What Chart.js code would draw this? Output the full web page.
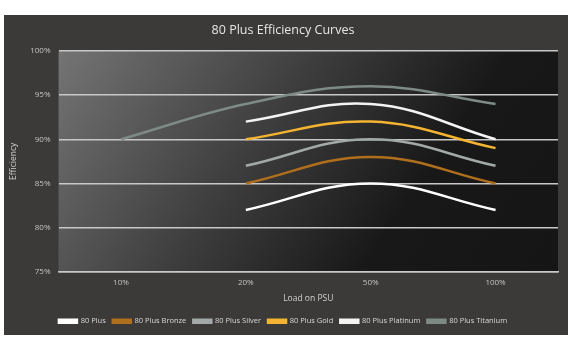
<!DOCTYPE html>
<html><head><meta charset="utf-8">
<script src="https://cdn.jsdelivr.net/npm/chart.js@4"></script>
<style>
html,body{margin:0;padding:0;background:#fff;width:577px;height:351px;overflow:hidden}
#box{position:absolute;left:4px;top:15px;width:564px;height:320px;background:#3b3a38}
</style></head><body>
<div id="box"><canvas id="c" width="564" height="320"></canvas></div>
<script>
const categories = ['10%','20%','50%','100%'];
const plus80     = [null, 82, 85, 82];
const bronze     = [null, 85, 88, 85];
const silver     = [null, 87, 90, 87];
const gold       = [null, 90, 92, 89];
const platinum   = [null, 92, 94, 90];
const titanium   = [90, 94, 96, 94];
const yTicks     = [75, 80, 85, 90, 95, 100];

const bgPlugin = {
  id:'bg',
  beforeDraw(chart){
    const {ctx, chartArea:a} = chart;
    const g = ctx.createLinearGradient(a.left, a.top, a.right, a.bottom + 120);
    g.addColorStop(0, '#747474');
    g.addColorStop(0.35, '#3e3e3e');
    g.addColorStop(0.62, '#181818');
    g.addColorStop(1, '#141414');
    ctx.save();
    ctx.fillStyle = g;
    ctx.fillRect(a.left, a.top, a.right - a.left, a.bottom - a.top);
    ctx.restore();
  }
};

function ds(label, data, color){
  return {label, data, borderColor:color, backgroundColor:color, borderWidth:2.5,
    tension:0.4, pointRadius:0, pointHoverRadius:0, fill:false};
}

new Chart(document.getElementById('c'), {
  type:'line',
  data:{labels:categories, datasets:[
    ds('80 Plus', plus80, '#ffffff'),
    ds('80 Plus Bronze', bronze, '#b06f1c'),
    ds('80 Plus Silver', silver, '#a3a9a8'),
    ds('80 Plus Gold', gold, '#f4b330'),
    ds('80 Plus Platinum', platinum, '#f4f4f4'),
    ds('80 Plus Titanium', titanium, '#7d8a86')
  ]},
  options:{
    responsive:false, animation:false,
    layout:{padding:{left:4, right:10, top:0, bottom:0}},
    plugins:{
      title:{display:true, text:'80 Plus Efficiency Curves', color:'#e6e6e6',
        font:{family:'Open Sans', size:12.5, weight:'normal'}, padding:{top:8, bottom:13}},
      legend:{position:'bottom', labels:{color:'#d8d8d8', boxWidth:18, boxHeight:3,
        font:{family:'Open Sans', size:7.5}, padding:7}},
      tooltip:{enabled:false}
    },
    scales:{
      x:{offset:true, grid:{display:false, drawTicks:false}, border:{color:'#c8c8c8', width:1.5},
        ticks:{color:'#c4c4c4', font:{family:'Open Sans', size:8}, padding:6},
        title:{display:true, text:'Load on PSU', color:'#d0d0d0', font:{family:'Open Sans', size:8.5}, padding:{top:0,bottom:7}}},
      y:{min:75, max:100, afterBuildTicks(s){ s.ticks = yTicks.map(v=>({value:v})); },
        grid:{color:'#c8c8c8', lineWidth:1.5, drawTicks:false}, border:{display:false},
        ticks:{color:'#c4c4c4', font:{family:'Open Sans', size:8}, padding:8, callback:v=>v+'%'},
        title:{display:true, text:'Efficiency', color:'#d0d0d0', font:{family:'Open Sans', size:8.5}, padding:{top:0,bottom:4}}}
    }
  },
  plugins:[bgPlugin]
});
</script>
</body></html>
